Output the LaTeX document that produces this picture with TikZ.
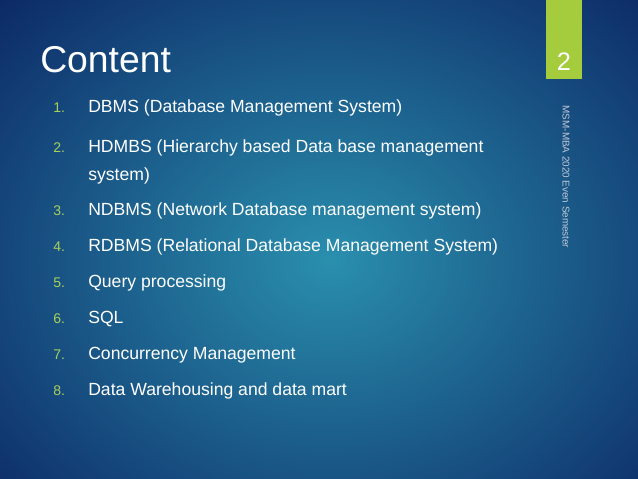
\documentclass[tikz,border=0pt]{standalone}
\usepackage{fontspec}
\setmainfont{Liberation Sans}
\definecolor{bgin}{HTML}{2A8FAE}
\definecolor{bgout}{HTML}{0B2563}
\definecolor{lime}{HTML}{A4CC3C}
\definecolor{num}{HTML}{A8D05A}
\begin{document}
\begin{tikzpicture}[x=0.75pt,y=-0.75pt,
  item/.style={anchor=base west,text=white,font=\fontsize{13.2}{15}\selectfont,inner sep=0pt},
  numb/.style={anchor=base west,text=num,font=\fontsize{10.5}{12}\selectfont,inner sep=0pt}]
\useasboundingbox (0,0) rectangle (638,478);
\shade[inner color=bgin,outer color=bgout] (-150,-130) rectangle (810,650);
\fill[lime] (546,0) rectangle (582,79);
\node[anchor=base,text=white,font=\fontsize{19}{22}\selectfont,inner sep=0pt] (pg) at (564,70) {2};
\node[anchor=base west,text=white,font=\fontsize{28}{32}\selectfont,inner sep=0pt] (title) at (40,72) {Content};
\node[rotate=-90,text=white!75!bgout,font=\fontsize{7.4}{9}\selectfont] (side) at (566,177) {MSM-MBA 2020 Even Semester};
\foreach \n/\y/\t in {1/112/DBMS (Database Management System),
  2/152/HDMBS (Hierarchy based Data base management,
  3/215/NDBMS (Network Database management system),
  4/251/RDBMS (Relational Database Management System),
  5/287/Query processing,
  6/323/SQL,
  7/359/Concurrency Management,
  8/395/Data Warehousing and data mart}{
  \node[numb] (n\n) at (53,\y) {\n.};
  \node[item] (t\n) at (88,\y) {\t};
}
\node[item] (t2b) at (88,180) {system)};
\end{tikzpicture}
\end{document}
